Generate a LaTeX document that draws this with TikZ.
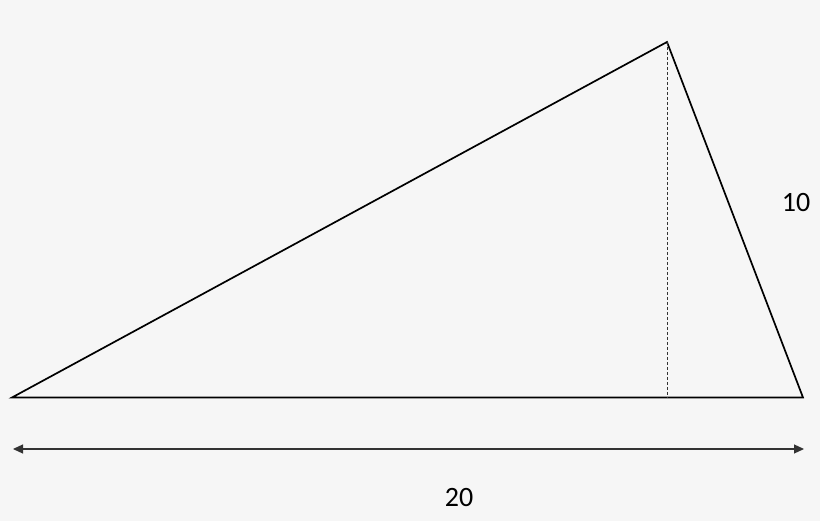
\documentclass[tikz,border=0pt]{standalone}
\usepackage{fontspec}
\setmainfont{Carlito}
\usetikzlibrary{arrows.meta}
\definecolor{bg}{HTML}{F6F6F6}
\tikzset{
  side/.style={line width=1.7pt, line join=miter, black},
  heightline/.style={line width=0.8pt, dash pattern=on 3pt off 2pt, black!80},
  dimline/.style={line width=1.2pt, black!80, {Triangle[length=10pt,width=9pt]}-{Triangle[length=10pt,width=9pt]}},
  lbl/.style={font=\fontsize{28}{32}\selectfont, inner sep=0pt}
}
\begin{document}
\begin{tikzpicture}[x=1pt,y=-1pt]
\fill[bg] (0,0) rectangle (820,521);
\useasboundingbox (0,0) rectangle (820,521);
\coordinate (A) at (12,397.5);
\coordinate (B) at (803,397.5);
\coordinate (C) at (667,42);
\coordinate (F) at (667,397.5);
\coordinate (L) at (13,449);
\coordinate (R) at (804,449);
\draw[side] (A) -- (B) -- (C) -- cycle;
\draw[heightline] (C) -- (F);
\draw[dimline] (L) -- (R);
\node[lbl] (h) at (796,203) {10};
\node[lbl] (w) at (459,498) {20};
\end{tikzpicture}
\end{document}
